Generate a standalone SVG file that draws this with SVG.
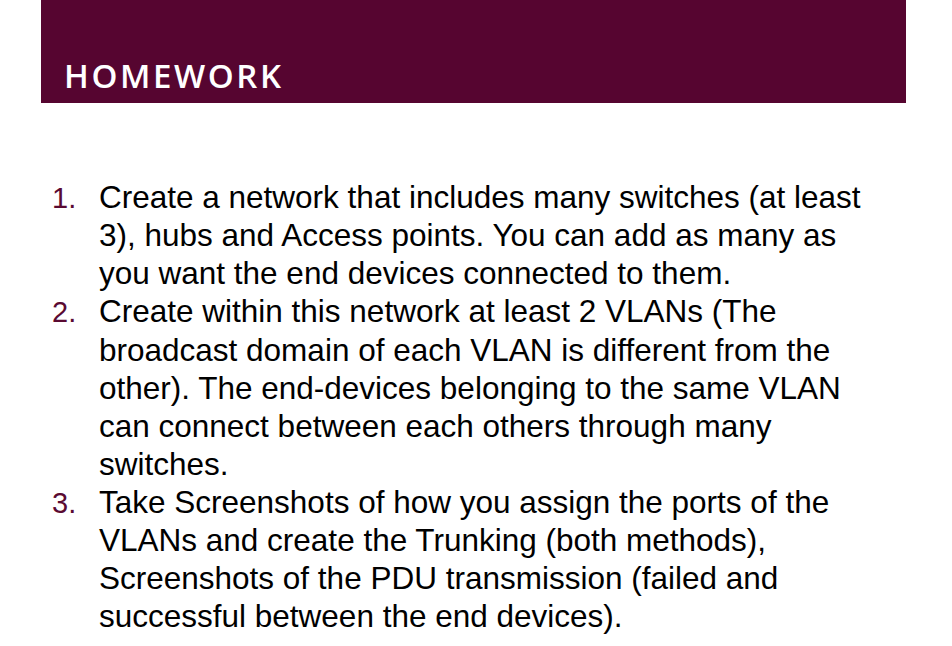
<svg xmlns="http://www.w3.org/2000/svg" width="952" height="646" viewBox="0 0 952 646">
<style>
.t{font-family:"Liberation Sans",Arial,sans-serif;font-size:31.5px;fill:#000}
.n{font-family:"Liberation Sans",Arial,sans-serif;font-size:29px;fill:#5a0a32}
</style>
<rect width="952" height="646" fill="#fff"/>
<g id="header">
<rect x="41" y="0" width="865" height="103" fill="#560530"/>
<text x="64" y="88" font-family="'Open Sans',sans-serif" font-size="33" font-weight="600" letter-spacing="2.6" fill="#fff">HOMEWORK</text>
</g>
<g id="body">
<text class="n" x="52" y="208">1.</text>
<text class="t" x="99" y="208">Create a network that includes many switches (at least</text>
<text class="t" x="99" y="246">3), hubs and Access points. You can add as many as</text>
<text class="t" x="99" y="284">you want the end devices connected to them.</text>
<text class="n" x="52" y="322">2.</text>
<text class="t" x="99" y="322">Create within this network at least 2 VLANs (The</text>
<text class="t" x="99" y="361">broadcast domain of each VLAN is different from the</text>
<text class="t" x="99" y="399">other). The end-devices belonging to the same VLAN</text>
<text class="t" x="99" y="437">can connect between each others through many</text>
<text class="t" x="99" y="475">switches.</text>
<text class="n" x="52" y="513">3.</text>
<text class="t" x="99" y="513">Take Screenshots of how you assign the ports of the</text>
<text class="t" x="99" y="551">VLANs and create the Trunking (both methods),</text>
<text class="t" x="99" y="589">Screenshots of the PDU transmission (failed and</text>
<text class="t" x="99" y="627">successful between the end devices).</text>
</g>
</svg>
